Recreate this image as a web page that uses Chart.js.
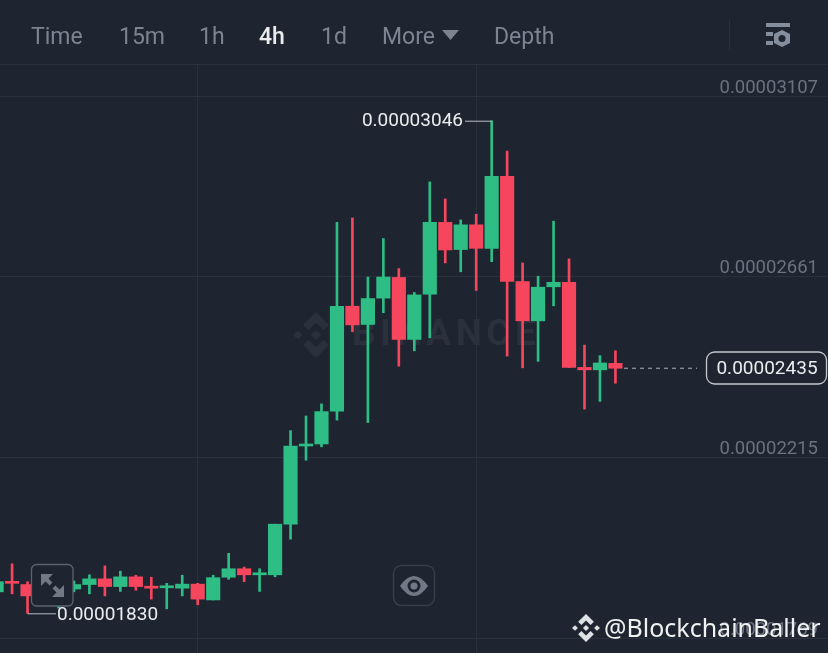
<!DOCTYPE html>
<html>
<head>
<meta charset="utf-8">
<style>
  html, body { margin: 0; padding: 0; background: #1f2530; }
  canvas { display: block; }
</style>
<script src="https://cdn.jsdelivr.net/npm/chart.js@4"></script>
</head>
<body>
<canvas id="chart" width="828" height="653"></canvas>
<script>
// Prices in units of 0.00000001
const opens = [1883, 1908, 1901, 1900, 1888, 1890, 1901, 1915, 1896, 1920, 1895, 1893, 1892, 1902, 1863, 1919, 1940, 1925, 1925, 2050, 2243, 2248, 2329, 2588, 2543, 2608, 2659, 2506, 2618, 2795, 2728, 2789, 2731, 2909, 2649, 2552, 2636, 2647, 2437, 2431, 2447];
const closes = [1908, 1904, 1873, 1888, 1900, 1901, 1915, 1896, 1920, 1896, 1892, 1897, 1902, 1865, 1918, 1940, 1925, 1929, 2050, 2243, 2248, 2328, 2588, 2542, 2607, 2660, 2506, 2616, 2795, 2727, 2789, 2731, 2909, 2649, 2552, 2635, 2647, 2437, 2431, 2448, 2435];
const highs = [1920, 1952, 1908, 1910, 1912, 1910, 1925, 1947, 1934, 1924, 1919, 1904, 1924, 1904, 1924, 1978, 1944, 1940, 2050, 2281, 2317, 2347, 2795, 2806, 2660, 2755, 2681, 2622, 2895, 2853, 2801, 2815, 3046, 2971, 2695, 2662, 2798, 2705, 2492, 2466, 2478];
const lows = [1873, 1878, 1830, 1880, 1843, 1883, 1878, 1873, 1884, 1887, 1865, 1841, 1873, 1851, 1863, 1914, 1908, 1884, 1920, 2013, 2208, 2241, 2307, 2525, 2301, 2572, 2440, 2478, 2510, 2695, 2673, 2627, 2698, 2465, 2436, 2452, 2589, 2437, 2334, 2353, 2398];

const tickValues = [3107, 2661, 2215, 1769];
const tickLabels = ['0.00003107', '0.00002661', '0.00002215', '0.00001769'];
const timeTicks = [13, 31];

const highestIndex = 32;
const highestLabel = '0.00003046';
const lowestIndex = 2;
const lowestLabel = '0.00001830';
const lastPrice = 2435;
const lastLabel = '0.00002435';

const menuItems = [
  { text: 'Time', x: 31 },
  { text: '15m', x: 119 },
  { text: '1h', x: 199 },
  { text: '4h', x: 259, active: true },
  { text: '1d', x: 321 },
  { text: 'More', x: 382 },
  { text: 'Depth', x: 494 }
];

const GREEN = '#2ebd85';
const RED = '#f6465d';
const GRID = '#2b313c';
const UI_FONT = 'Roboto, sans-serif';

function colorOf(i) {
  return closes[i] >= opens[i] ? GREEN : RED;
}

// Binance logo: two small diamonds, one middle diamond and two chevrons
function drawLogo(ctx, cx, cy, r, color) {
  const shape = pts => {
    ctx.beginPath();
    pts.forEach((p, i) => {
      if (i === 0) ctx.moveTo(cx + p[0] * r, cy + p[1] * r);
      else ctx.lineTo(cx + p[0] * r, cy + p[1] * r);
    });
    ctx.closePath();
    ctx.fill();
  };
  ctx.fillStyle = color;
  shape([[0, -0.22], [0.22, 0], [0, 0.22], [-0.22, 0]]);
  shape([[-0.78, -0.2], [-0.58, 0], [-0.78, 0.2], [-1, 0]]);
  shape([[0.78, -0.2], [1, 0], [0.78, 0.2], [0.58, 0]]);
  shape([[0, -1], [0.56, -0.44], [0.33, -0.21], [0, -0.54], [-0.33, -0.21], [-0.56, -0.44]]);
  shape([[0, 1], [0.56, 0.44], [0.33, 0.21], [0, 0.54], [-0.33, 0.21], [-0.56, 0.44]]);
}

function roundBox(ctx, x, y, w, h, r, fill, stroke, lw) {
  ctx.beginPath();
  ctx.roundRect(x, y, w, h, r);
  if (fill) {
    ctx.fillStyle = fill;
    ctx.fill();
  }
  ctx.strokeStyle = stroke;
  ctx.lineWidth = lw;
  ctx.stroke();
}

// Faint watermark behind the candles
const watermarkPlugin = {
  id: 'watermark',
  beforeDatasetsDraw(chart) {
    const ctx = chart.ctx;
    ctx.save();
    drawLogo(ctx, 316, 335, 23, '#2b313c');
    ctx.font = 'bold 37px ' + UI_FONT;
    ctx.letterSpacing = '4.5px';
    ctx.fillStyle = '#2b313c';
    ctx.textAlign = 'left';
    ctx.textBaseline = 'middle';
    ctx.fillText('BINANCE', 352, 336);
    ctx.restore();
  }
};

// Header, price annotations and buttons on top of the chart
const overlayPlugin = {
  id: 'overlay',
  afterDraw(chart) {
    const ctx = chart.ctx;
    const xs = chart.scales.x;
    const ys = chart.scales.y;
    ctx.save();

    // header
    ctx.strokeStyle = GRID;
    ctx.lineWidth = 1;
    ctx.beginPath();
    ctx.moveTo(0, 64.5);
    ctx.lineTo(828, 64.5);
    ctx.moveTo(729.5, 20);
    ctx.lineTo(729.5, 50);
    ctx.stroke();

    ctx.textBaseline = 'alphabetic';
    ctx.textAlign = 'left';
    menuItems.forEach(item => {
      ctx.font = (item.active ? '500 ' : '') + '23px ' + UI_FONT;
      ctx.fillStyle = item.active ? '#eaecef' : '#7c8492';
      ctx.fillText(item.text, item.x, 44);
    });

    ctx.fillStyle = '#7c8492';
    ctx.beginPath();
    ctx.moveTo(442, 30);
    ctx.lineTo(459, 30);
    ctx.lineTo(450.5, 40);
    ctx.closePath();
    ctx.fill();

    // settings icon
    ctx.fillStyle = '#848e9c';
    ctx.fillRect(766, 23, 24, 4);
    ctx.fillRect(766, 32, 7, 4);
    ctx.fillRect(766, 41, 7, 4);
    ctx.beginPath();
    ctx.moveTo(782, 30);
    ctx.lineTo(790, 34);
    ctx.lineTo(790, 43);
    ctx.lineTo(782, 47);
    ctx.lineTo(774, 43);
    ctx.lineTo(774, 34);
    ctx.closePath();
    ctx.fill();
    ctx.fillStyle = '#1f2530';
    ctx.beginPath();
    ctx.arc(782, 38.5, 3.5, 0, Math.PI * 2);
    ctx.fill();

    // highest and lowest markers
    const hx = xs.getPixelForValue(highestIndex);
    const hy = ys.getPixelForValue(highs[highestIndex]);
    const lx = xs.getPixelForValue(lowestIndex);
    const ly = ys.getPixelForValue(lows[lowestIndex]);
    ctx.strokeStyle = '#b7bdc6';
    ctx.lineWidth = 1;
    ctx.beginPath();
    ctx.moveTo(hx, hy + 0.5);
    ctx.lineTo(465, hy + 0.5);
    ctx.moveTo(lx, ly + 0.5);
    ctx.lineTo(56, ly + 0.5);
    ctx.stroke();

    ctx.font = '19px ' + UI_FONT;
    ctx.fillStyle = '#eaecef';
    ctx.textBaseline = 'middle';
    ctx.textAlign = 'right';
    ctx.fillText(highestLabel, 463, hy + 1);
    ctx.textAlign = 'left';
    ctx.fillText(lowestLabel, 57, ly + 2);

    // last price line and tag
    const py = ys.getPixelForValue(lastPrice);
    ctx.strokeStyle = '#aeb4bc';
    ctx.setLineDash([4, 4]);
    ctx.beginPath();
    ctx.moveTo(624, py);
    ctx.lineTo(697, py);
    ctx.stroke();
    ctx.setLineDash([]);
    roundBox(ctx, 706.5, 352, 120, 32, 8, '#1f2530', '#c4c8cd', 1.3);
    ctx.fillStyle = '#eaecef';
    ctx.textAlign = 'center';
    ctx.fillText(lastLabel, 767, 369);

    // expand button
    roundBox(ctx, 31.5, 564.5, 41.5, 41.5, 5, '#1f2530', '#5c6370', 1.3);
    ctx.fillStyle = '#727986';
    ctx.strokeStyle = '#727986';
    ctx.lineWidth = 4;
    ctx.beginPath();
    ctx.moveTo(44, 577);
    ctx.lineTo(51, 584);
    ctx.moveTo(54, 587);
    ctx.lineTo(61, 594);
    ctx.stroke();
    [[41, 574, 1], [64, 597, -1]].forEach(a => {
      ctx.beginPath();
      ctx.moveTo(a[0], a[1]);
      ctx.lineTo(a[0] + a[2] * 12, a[1]);
      ctx.lineTo(a[0], a[1] + a[2] * 12);
      ctx.closePath();
      ctx.fill();
    });

    // eye button
    roundBox(ctx, 393.5, 565.5, 41, 40, 8, null, '#373d49', 1.5);
    ctx.fillStyle = '#727986';
    ctx.beginPath();
    ctx.moveTo(400, 586);
    ctx.quadraticCurveTo(414, 566, 428, 586);
    ctx.quadraticCurveTo(414, 606, 400, 586);
    ctx.closePath();
    ctx.fill();
    ctx.fillStyle = '#1f2530';
    ctx.beginPath();
    ctx.arc(414, 586, 6.5, 0, Math.PI * 2);
    ctx.fill();
    ctx.fillStyle = '#727986';
    ctx.beginPath();
    ctx.arc(414, 586, 3.5, 0, Math.PI * 2);
    ctx.fill();

    // author mark
    drawLogo(ctx, 586, 628, 14, '#dfe1e4');
    ctx.font = '25px "Noto Sans", sans-serif';
    ctx.fillStyle = '#f0f1f2';
    ctx.textAlign = 'left';
    ctx.textBaseline = 'alphabetic';
    ctx.fillText('@BlockchainBaller', 604, 637);

    ctx.restore();
  }
};

new Chart(document.getElementById('chart'), {
  type: 'bar',
  data: {
    datasets: [
      {
        label: 'Wick',
        data: opens.map((o, i) => ({ x: i, y: [lows[i], highs[i]] })),
        backgroundColor: opens.map((o, i) => colorOf(i)),
        barThickness: 2,
        grouped: false
      },
      {
        label: 'Body',
        data: opens.map((o, i) => ({ x: i, y: [o, closes[i]] })),
        backgroundColor: opens.map((o, i) => colorOf(i)),
        barThickness: 13.5,
        minBarLength: 2,
        grouped: false
      }
    ]
  },
  options: {
    responsive: false,
    animation: false,
    layout: { padding: { top: 64, left: 0, right: 0, bottom: 0 } },
    plugins: {
      legend: { display: false },
      tooltip: { enabled: false }
    },
    scales: {
      x: {
        type: 'linear',
        offset: false,
        min: 0.22,
        max: 53.74,
        afterBuildTicks: axis => {
          axis.ticks = timeTicks.map(v => ({ value: v }));
        },
        afterFit: axis => {
          axis.height = 0;
          axis.paddingLeft = 0;
          axis.paddingRight = 0;
        },
        ticks: { display: false },
        grid: { color: GRID, drawTicks: false, offset: false },
        border: { display: false }
      },
      y: {
        position: 'right',
        min: 1732,
        max: 3186,
        afterBuildTicks: axis => {
          axis.ticks = tickValues.map(v => ({ value: v }));
        },
        // the labels sit inside the plot, so the axis takes no room of its own
        afterFit: axis => {
          axis.width = 0;
          axis.paddingTop = 0;
          axis.paddingBottom = 0;
        },
        ticks: {
          mirror: true,
          padding: -10,
          labelOffset: -8,
          color: '#6b7280',
          font: { family: 'Roboto', size: 18.5 },
          callback: (value) => tickLabels[tickValues.indexOf(value)]
        },
        grid: { color: GRID, drawTicks: false },
        border: { display: false }
      }
    }
  },
  plugins: [watermarkPlugin, overlayPlugin]
});
</script>
</body>
</html>
